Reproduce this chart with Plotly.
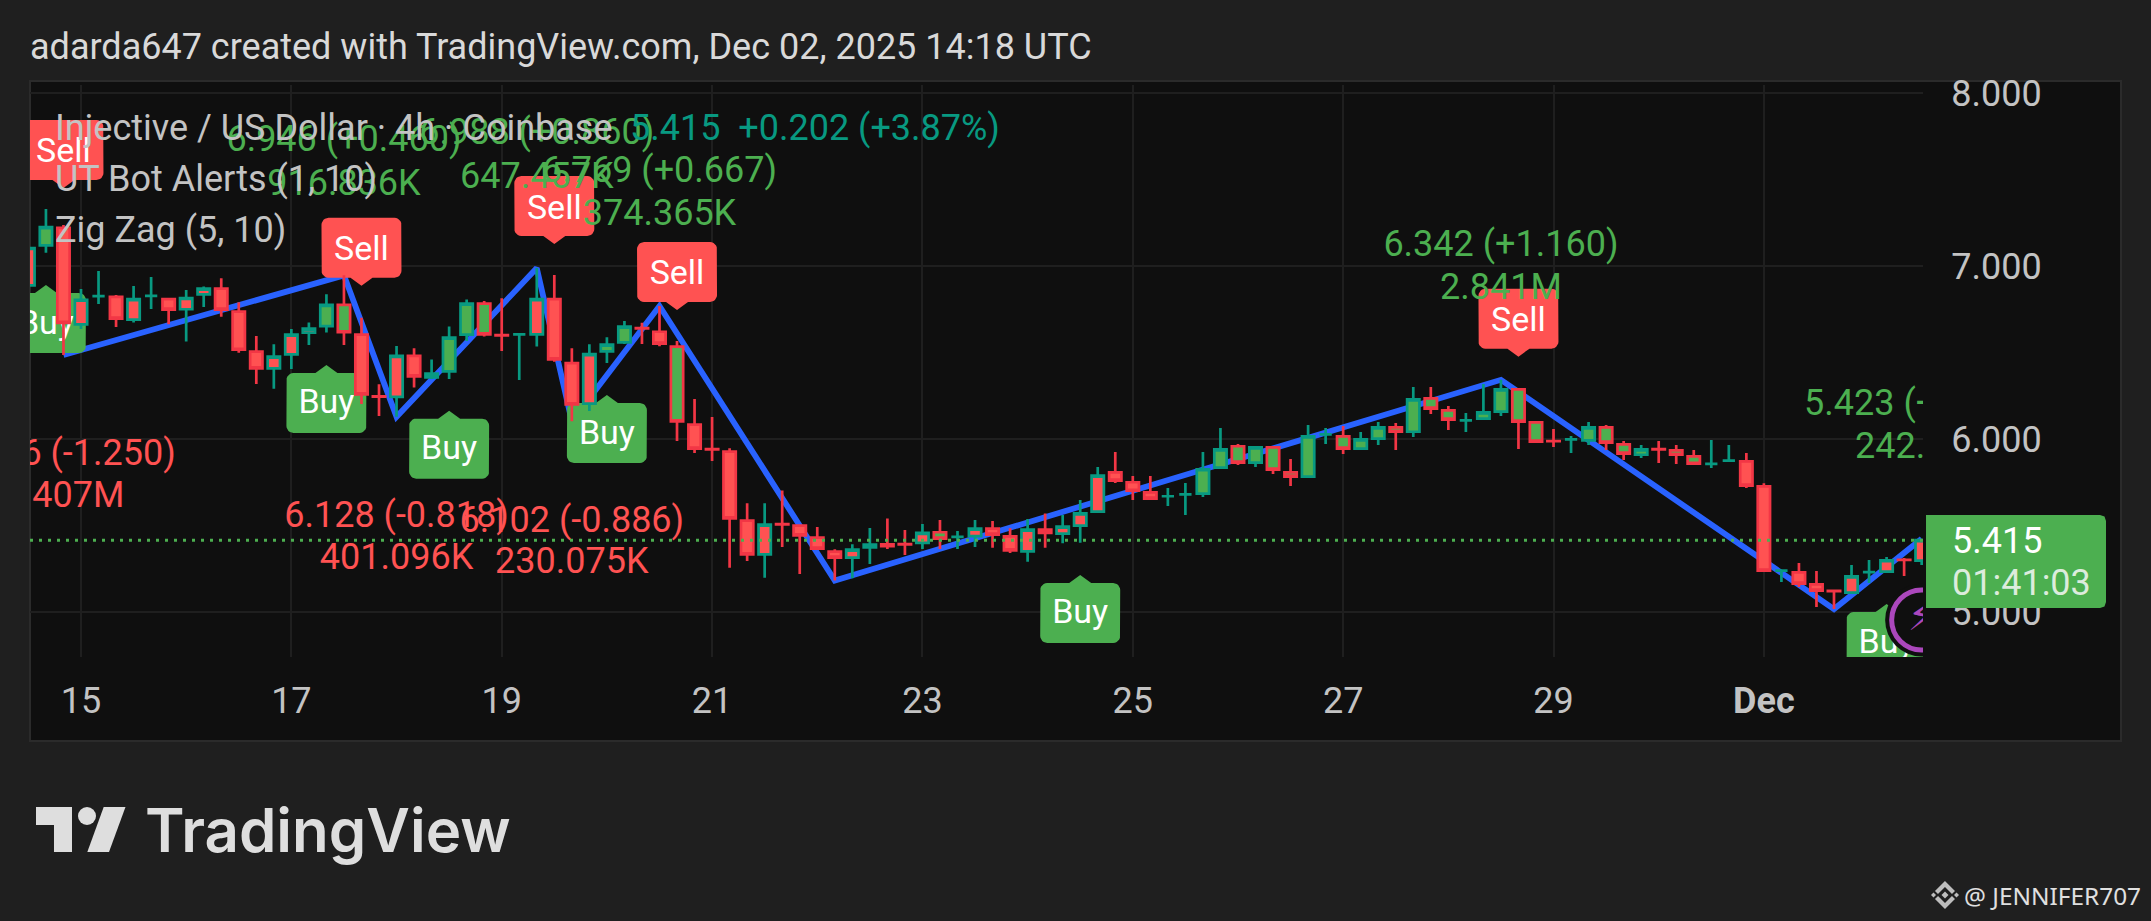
import math
import plotly.graph_objects as go

# ---------- data (4h bars, bar 0 = Nov 15 00:00) ----------
FIRST_BAR = -3
bar_open = [6.888, 7.119, 7.220, 6.663, 6.826, 6.821, 6.690, 6.827, 6.809, 6.750,
            6.836, 6.869, 6.736, 6.505, 6.408, 6.489, 6.615, 6.653, 6.775, 6.603,
            6.246, 6.243, 6.480, 6.356, 6.391, 6.603, 6.782, 6.600, 6.605, 6.605,
            6.809, 6.439, 6.204, 6.507, 6.559, 6.641, 6.620, 6.534, 6.083, 5.941,
            5.927, 5.528, 5.333, 5.508, 5.499, 5.430, 5.349, 5.314, 5.374, 5.391,
            5.392, 5.399, 5.461, 5.434, 5.439, 5.482, 5.437, 5.351, 5.476, 5.453,
            5.499, 5.580, 5.807, 5.750, 5.692, 5.669, 5.680, 5.684, 5.834, 5.958,
            5.863, 5.952, 5.807, 5.782, 6.027, 6.015, 5.944, 6.002, 6.067, 6.042,
            6.235, 6.166, 6.108, 6.118, 6.158, 6.287, 6.096, 5.988, 5.998, 5.992,
            6.067, 5.969, 5.909, 5.941, 5.934, 5.900, 5.856, 5.875, 5.871, 5.726,
            5.239, 5.229, 5.160, 5.122, 5.112, 5.231, 5.233, 5.302, 5.297]
bar_high = [7.121, 7.329, 7.237, 6.867, 6.971, 6.832, 6.884, 6.936, 6.817, 6.861,
            6.881, 6.929, 6.790, 6.595, 6.547, 6.636, 6.674, 6.836, 6.946, 6.701,
            6.316, 6.538, 6.524, 6.460, 6.651, 6.807, 6.798, 6.813, 6.611, 6.988,
            6.948, 6.524, 6.547, 6.588, 6.682, 6.672, 6.769, 6.566, 6.231, 6.127,
            5.946, 5.628, 5.628, 5.703, 5.507, 5.491, 5.362, 5.391, 5.486, 5.541,
            5.474, 5.509, 5.532, 5.468, 5.532, 5.526, 5.484, 5.538, 5.570, 5.561,
            5.647, 5.838, 5.925, 5.786, 5.786, 5.717, 5.746, 5.925, 6.064, 5.971,
            5.960, 5.960, 5.884, 6.081, 6.064, 6.075, 6.040, 6.098, 6.093, 6.301,
            6.301, 6.191, 6.150, 6.318, 6.342, 6.295, 6.104, 6.058, 6.017, 6.098,
            6.081, 5.988, 5.965, 5.988, 5.965, 5.936, 5.994, 5.965, 5.919, 5.744,
            5.243, 5.283, 5.237, 5.125, 5.272, 5.301, 5.318, 5.312, 5.423]
bar_low = [6.871, 7.077, 6.486, 6.636, 6.780, 6.647, 6.674, 6.751, 6.663, 6.563,
           6.763, 6.707, 6.499, 6.318, 6.291, 6.405, 6.543, 6.615, 6.543, 6.202,
           6.133, 6.128, 6.297, 6.347, 6.347, 6.566, 6.592, 6.509, 6.341, 6.534,
           6.447, 6.102, 6.162, 6.439, 6.549, 6.549, 6.536, 5.988, 5.919, 5.873,
           5.256, 5.295, 5.198, 5.376, 5.220, 5.358, 5.182, 5.195, 5.277, 5.364,
           5.330, 5.364, 5.364, 5.364, 5.376, 5.372, 5.341, 5.291, 5.372, 5.397,
           5.401, 5.572, 5.746, 5.647, 5.647, 5.613, 5.561, 5.665, 5.827, 5.850,
           5.838, 5.798, 5.728, 5.775, 5.971, 5.913, 5.936, 5.965, 5.936, 6.012,
           6.145, 6.052, 6.040, 6.110, 6.133, 5.942, 5.977, 5.954, 5.919, 5.965,
           5.936, 5.879, 5.890, 5.861, 5.856, 5.850, 5.832, 5.871, 5.717, 5.231,
           5.173, 5.145, 5.029, 5.017, 5.104, 5.168, 5.225, 5.208, 5.272]
bar_close = [7.104, 7.225, 6.671, 6.805, 6.826, 6.696, 6.809, 6.827, 6.748, 6.815,
             6.869, 6.748, 6.516, 6.408, 6.476, 6.603, 6.638, 6.775, 6.617, 6.258,
             6.245, 6.480, 6.362, 6.378, 6.586, 6.782, 6.605, 6.599, 6.605, 6.809,
             6.460, 6.200, 6.491, 6.545, 6.649, 6.640, 6.551, 6.102, 5.944, 5.940,
             5.541, 5.333, 5.505, 5.507, 5.443, 5.366, 5.314, 5.360, 5.389, 5.381,
             5.391, 5.457, 5.424, 5.434, 5.482, 5.447, 5.356, 5.476, 5.457, 5.493,
             5.570, 5.788, 5.759, 5.701, 5.655, 5.669, 5.680, 5.825, 5.940, 5.863,
             5.952, 5.823, 5.782, 6.015, 6.027, 5.944, 5.998, 6.067, 6.042, 6.229,
             6.175, 6.112, 6.108, 6.154, 6.287, 6.100, 5.985, 5.987, 5.998, 6.067,
             5.979, 5.915, 5.940, 5.940, 5.909, 5.857, 5.856, 5.875, 5.730, 5.239,
             5.239, 5.164, 5.123, 5.121, 5.206, 5.231, 5.299, 5.301, 5.415]
bar_fill = list("rgrr" "rrrr" "rrrr" "rrrrrg" "grrrr" "ggggg" "grrrr" "ggrrgr"
                "rrrrrrrrrrrr" "rgrrrrrrrrrrrrrr" "ggggggggggggggggggggggggggg"
                "gggrrrrrrrrrrrrrrrrrrrrrr" "gggg")

zigzag_bars = [-1, 15, 18, 26, 28, 33, 43, 81, 100, 105]
zigzag_prices = [6.486, 6.946, 6.128, 6.988, 6.102, 6.769, 5.182, 6.342, 5.017, 5.423]

pivot_bars = [-1, 15, 18, 26, 28, 33, 81, 105]
pivot_prices = [6.486, 6.946, 6.128, 6.988, 6.102, 6.769, 6.342, 5.423]
pivot_changes = ["6.486 (-1.250)", "6.946 (+0.460)", "6.128 (-0.818)", "6.988 (+0.860)",
                 "6.102 (-0.886)", "6.769 (+0.667)", "6.342 (+1.160)", "5.423 (+0.406)"]
pivot_volumes = ["1.407M", "916.836K", "401.096K", "647.457K",
                 "230.075K", "374.365K", "2.841M", "242.55K"]

sell_bars = [-1, 16, 27, 34, 82]
sell_prices = [7.451, 6.886, 7.127, 6.746, 6.476]
buy_bars = [-2, 14, 21, 30, 57, 103]
buy_prices = [6.890, 6.428, 6.164, 6.254, 5.214, 5.046]

tick_bars = [0, 12, 24, 36, 48, 60, 72, 84, 96]
tick_labels = ["15", "17", "19", "21", "23", "25", "27", "29", "<b>Dec</b>"]
last_price = 5.415
y_ticks = [5, 6, 7, 8]

# ---------- geometry / style ----------
W, H = 2151, 921
PANE = dict(left=30, right=1923, top=85, bottom=657)
PX_PER_BAR, PX_PER_PRICE = 17.53, 173.0
X_RANGE = [(PANE["left"] - 81) / PX_PER_BAR, (PANE["right"] - 81) / PX_PER_BAR]
Y_RANGE = [5 + (612 - PANE["bottom"]) / PX_PER_PRICE, 5 + (612 - PANE["top"]) / PX_PER_PRICE]
BG, PANEL, GRID = "#1f1f1f", "#0f0f0f", "#1f1f1f"
TEAL, RED, GREEN, LRED, BLUE = "#089981", "#f23645", "#4caf50", "#ff5252", "#2962ff"
TXT = "#c3c3c3"
FS = 36


def fx(px):
    return px / W


def fy(py):
    return 1 - py / H


def callout(bar, price, above):
    """Rounded label with a notch whose tip sits on (bar, price)."""
    w, h, n, nw, r = 80, 60, 8, 11, 7
    s = 1 if above else -1
    near, far = s * n, s * (n + h)
    pts = [(0, 0), (nw, near)]
    corners = [(w / 2 - r, near + s * r, -90), (w / 2 - r, far - s * r, 0),
               (-w / 2 + r, far - s * r, 90), (-w / 2 + r, near + s * r, 180)]
    for cx, cy, a0 in corners:
        for k in range(7):
            a = math.radians(a0 + k * 15)
            pts.append((cx + r * math.cos(a), cy + s * r * math.sin(a)))
    pts += [(-nw, near), (0, 0)]
    return ([bar + p[0] / PX_PER_BAR for p in pts] + [None],
            [price + p[1] / PX_PER_PRICE for p in pts] + [None])


def callout_trace(bars, prices, above, color):
    xs, ys = [], []
    for b, p in zip(bars, prices):
        a, c = callout(b, p, above)
        xs += a
        ys += c
    return go.Scatter(x=xs, y=ys, mode="lines", fill="toself", fillcolor=color,
                      line=dict(width=0, color=color), hoverinfo="skip", showlegend=False)


fig = go.Figure()

# below the candles
fig.add_trace(go.Scatter(x=zigzag_bars, y=zigzag_prices, mode="lines",
                         line=dict(color=BLUE, width=5.8), hoverinfo="skip", showlegend=False))
fig.add_trace(callout_trace(sell_bars, sell_prices, True, LRED))
fig.add_trace(callout_trace(buy_bars, buy_prices, False, GREEN))

# pivot texts
HIGH1, HIGH2, LOW1, LOW2 = 133, 89.5, -101.5, -143
is_high = [i % 2 == 1 for i in range(len(pivot_bars) - 1)] + [True]
is_high[6] = True
label_y1, label_y2 = [], []
for p, hi in zip(pivot_prices, is_high):
    label_y1.append(p + (HIGH1 if hi else LOW1) / PX_PER_PRICE)
    label_y2.append(p + (HIGH2 if hi else LOW2) / PX_PER_PRICE)
colors = [GREEN if hi else LRED for hi in is_high]
fig.add_trace(go.Scatter(x=pivot_bars + pivot_bars, y=label_y1 + label_y2, mode="text",
                         text=pivot_changes + pivot_volumes,
                         textposition="middle center",
                         textfont=dict(family="Roboto", size=FS, color=colors + colors),
                         hoverinfo="skip", showlegend=False))

# signal texts
sell_text_y = [p + 34 / PX_PER_PRICE for p in sell_prices]
buy_text_y = [p - 40 / PX_PER_PRICE for p in buy_prices]
fig.add_trace(go.Scatter(x=sell_bars + buy_bars, y=sell_text_y + buy_text_y, mode="text",
                         text=["Sell"] * len(sell_bars) + ["Buy"] * len(buy_bars),
                         textposition="middle center",
                         textfont=dict(family="Roboto", size=34, color="#ffffff"),
                         hoverinfo="skip", showlegend=False))

# candles, on the overlaying axes so that they stay on top
bar_index = [FIRST_BAR + i for i in range(len(bar_open))]
for up, border in ((True, TEAL), (False, RED)):
    for code, fill in (("g", GREEN), ("r", LRED)):
        keep = [i for i in range(len(bar_open))
                if (bar_close[i] >= bar_open[i]) == up and bar_fill[i] == code]
        style = dict(line=dict(color=border, width=2.7), fillcolor=fill)
        fig.add_trace(go.Candlestick(
            x=[bar_index[i] for i in keep],
            open=[bar_open[i] for i in keep], high=[bar_high[i] for i in keep],
            low=[bar_low[i] for i in keep], close=[bar_close[i] for i in keep],
            increasing=style, decreasing=style,
            xaxis="x2", yaxis="y2", hoverinfo="skip", showlegend=False))

# alert badge at the right edge
fig.add_trace(go.Scatter(x=[105], y=[4.954], mode="markers", xaxis="x2", yaxis="y2",
                         marker=dict(size=73, color="#0f0f0f", line=dict(width=0)),
                         hoverinfo="skip", showlegend=False))
fig.add_trace(go.Scatter(x=[105], y=[4.954], mode="markers+text", xaxis="x2", yaxis="y2",
                         marker=dict(size=60, color="#0f0f0f", line=dict(width=5, color="#ab47bc")),
                         text=["\u26a1"], textposition="middle center",
                         textfont=dict(family="DejaVu Sans", size=40, color="#ab47bc"),
                         hoverinfo="skip", showlegend=False))

shapes = [
    dict(type="rect", xref="paper", yref="paper", layer="below",
         x0=fx(30), x1=fx(2121), y0=fy(741), y1=fy(81),
         fillcolor=PANEL, line=dict(color="#2b2b2b", width=2)),
    dict(type="line", xref="x2", yref="y2", x0=X_RANGE[0], x1=X_RANGE[1],
         y0=last_price, y1=last_price, layer="above",
         line=dict(color=GREEN, width=3, dash="3px,6px")),
]


def poly(points, color="#dedede"):
    d = "M" + " L".join(f"{fx(x):.5f},{fy(y):.5f}" for x, y in points) + " Z"
    return dict(type="path", xref="paper", yref="paper", path=d, fillcolor=color,
                line=dict(width=0), layer="above")


# last-price tag
r = 6
tag = [(1926, 515), (2106 - r, 515), (2104.5, 516.5), (2106, 515 + r), (2106, 608 - r),
       (2104.5, 606.5), (2106 - r, 608), (1926, 608)]
shapes.append(poly(tag, GREEN))

# TradingView logo
shapes.append(poly([(36, 807), (72, 807), (72, 852), (54, 852), (54, 825), (36, 825)]))
shapes.append(poly([(103.7, 807), (125.5, 807), (109, 852), (87.3, 852)]))
shapes.append(dict(type="circle", xref="paper", yref="paper", x0=fx(78), x1=fx(96),
                   y0=fy(825), y1=fy(807), fillcolor="#dedede", line=dict(width=0), layer="above"))

# watermark icon
cx, cy = 1945, 895
gray = "#bdbdbd"
shapes.append(poly([(cx, cy - 14), (cx + 10, cy - 4), (cx + 7, cy - 1), (cx, cy - 8),
                    (cx - 7, cy - 1), (cx - 10, cy - 4)], gray))
shapes.append(poly([(cx, cy + 14), (cx + 10, cy + 4), (cx + 7, cy + 1), (cx, cy + 8),
                    (cx - 7, cy + 1), (cx - 10, cy + 4)], gray))
for dx, rr in ((-11.5, 2.5), (11.5, 2.5), (0, 3.5)):
    shapes.append(poly([(cx + dx, cy - rr), (cx + dx + rr, cy), (cx + dx, cy + rr), (cx + dx - rr, cy)], gray))


def note(text, px, py, size=FS, color=TXT, family="Roboto", anchor="left", weight=None):
    font = dict(family=family, size=size, color=color)
    if weight:
        font["weight"] = weight
    return dict(text=text, x=fx(px - 2), y=fy(py), xref="paper", yref="paper",
                xanchor=anchor, yanchor="middle", showarrow=False, font=font)


annotations = [
    note("adarda647 created with TradingView.com, Dec 02, 2025 14:18 UTC", 30, 47, color="#d9d9d9"),
    note("Injective / US Dollar \u00b7 4h \u00b7 Coinbase", 55, 128),
    note("UT Bot Alerts (1, 10)", 55, 179),
    note("Zig Zag (5, 10)", 55, 230),
    note("5.415  +0.202 (+3.87%)", 630, 128, color=TEAL),
    note("5.415", 1952, 541, color="#ffffff"),
    note("01:41:03", 1952, 583, color="#dcecdd"),
    note("TradingView", 145, 830, size=60, color="#dedede", family="Inter", weight=600),
    note("@ JENNIFER707", 1964, 895, size=24.4, color="#e0e0e0", family="Noto Sans"),
]

dom_x = [fx(PANE["left"]), fx(PANE["right"])]
dom_y = [fy(PANE["bottom"]), fy(PANE["top"])]
fig.update_layout(
    width=W, height=H, autosize=False,
    margin=dict(l=0, r=0, t=0, b=0, pad=0, autoexpand=False),
    paper_bgcolor=BG, plot_bgcolor="rgba(0,0,0,0)",
    showlegend=False, dragmode=False, hovermode=False,
    boxgap=0.1, boxgroupgap=0.22,
    shapes=shapes, annotations=annotations,
    xaxis=dict(domain=dom_x, range=X_RANGE, type="linear", tickmode="array",
               tickvals=tick_bars, ticktext=tick_labels, showgrid=True, gridcolor=GRID, gridwidth=2,
               zeroline=False, showline=False, ticks="outside", ticklen=12, automargin=False,
               tickcolor="rgba(0,0,0,0)", tickfont=dict(family="Roboto", size=FS, color=TXT),
               fixedrange=True),
    yaxis=dict(domain=dom_y, range=Y_RANGE, side="right", tickmode="array", tickvals=y_ticks,
               ticktext=[f"{v:.3f}" for v in y_ticks], showgrid=True, gridcolor=GRID, gridwidth=2,
               zeroline=False, showline=False, ticks="outside", ticklen=20, automargin=False,
               tickcolor="rgba(0,0,0,0)", tickfont=dict(family="Roboto", size=FS, color=TXT),
               fixedrange=True),
    xaxis2=dict(domain=dom_x, range=X_RANGE, overlaying="x", visible=False, type="linear",
                rangeslider=dict(visible=False), fixedrange=True),
    yaxis2=dict(domain=dom_y, range=Y_RANGE, overlaying="y", visible=False, fixedrange=True),
)

fig.write_html("out.html", config={"displayModeBar": False},
               post_script="document.body.style.margin='0';document.body.style.background='#1f1f1f';")
